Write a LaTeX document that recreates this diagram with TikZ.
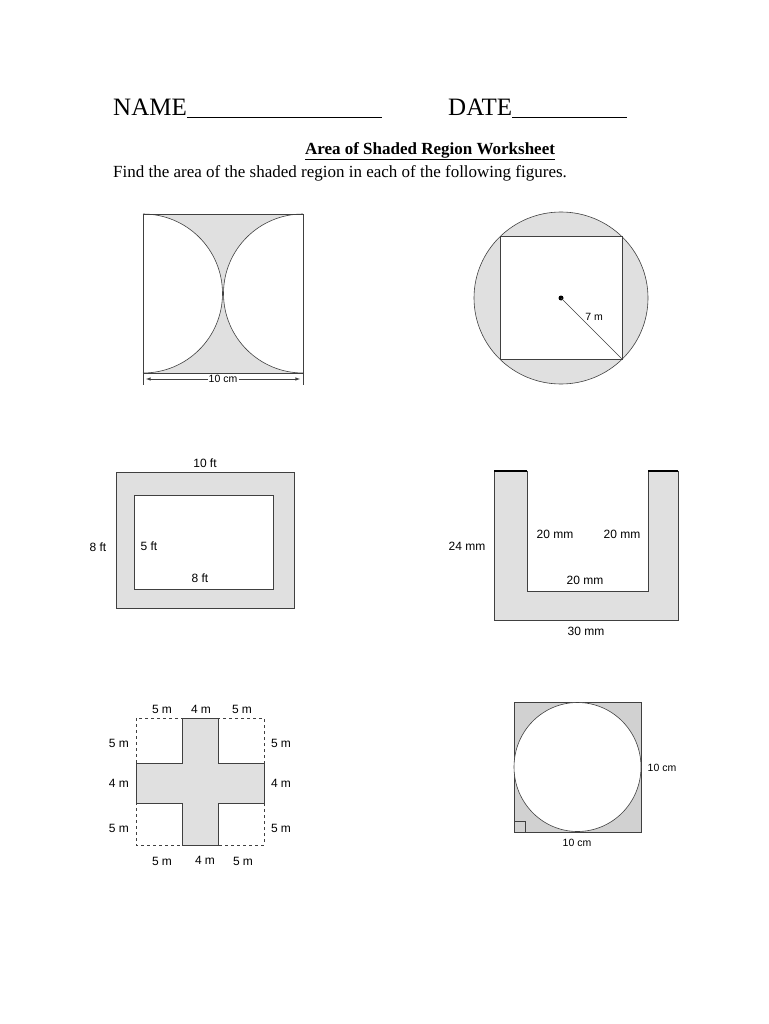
\documentclass[tikz,border=0pt]{standalone}
\usepackage{fontspec}
\setmainfont{Liberation Serif}
\newfontfamily\lab{Liberation Sans}
\begin{document}
\begin{tikzpicture}[x=1pt,y=-1pt,
  sh/.style={fill=black!12},
  ln/.style={draw=black!75,line width=0.6pt},
  lbl/.style={font=\lab\fontsize{12}{14}\selectfont,inner sep=1pt},
  slbl/.style={font=\lab\fontsize{10.5}{12}\selectfont,inner sep=1pt}]
\useasboundingbox (0,0) rectangle (768,1024);
% header
\node[anchor=base west,font=\fontsize{25}{28}\selectfont,inner sep=0] (name) at (113,116) {NAME\rule[-2pt]{195pt}{0.6pt}};
\node[anchor=base west,font=\fontsize{25}{28}\selectfont,inner sep=0] (date) at (448,116) {DATE\rule[-2pt]{115pt}{0.6pt}};
\node[font=\bfseries\fontsize{17}{20}\selectfont,inner sep=0] (title) at (430,151) {\underline{Area of Shaded Region Worksheet}};
\node[anchor=west,font=\fontsize{17}{20}\selectfont,inner sep=0] (instr) at (113,173) {Find the area of the shaded region in each of the following figures.};
% fig 1
\fill[sh] (143,214) rectangle (303,373);
\fill[white] (143,214) arc[start angle=-90,end angle=90,radius=79.5] -- cycle;
\fill[white] (303,214) arc[start angle=-90,end angle=-270,radius=79.5] -- cycle;
\draw[ln] (143,214) arc[start angle=-90,end angle=90,radius=79.5];
\draw[ln] (303,214) arc[start angle=-90,end angle=-270,radius=79.5];
\draw[ln] (143,214) rectangle (303,373);
\draw[ln] (143,373) -- (143,385) (303,373) -- (303,385);
\node[slbl,fill=white] (d1) at (223,379) {10 cm};
\draw[ln,-latex] (d1) -- (146,379);
\draw[ln,-latex] (d1) -- (300,379);
% fig 2
\draw[ln,sh] (561,298) ellipse[x radius=87,y radius=86];
\draw[ln,fill=white] (500,236) rectangle (622,359);
\fill (561,298) circle[radius=2.5];
\coordinate (c2) at (561,298);
\coordinate (k2) at (622,359);
\draw[ln] (c2) -- (k2);
\node[slbl] (r2) at (594,317) {7 m};
% fig 3
\draw[ln,sh] (116,472) rectangle (294,608);
\draw[ln,fill=white] (134,495) rectangle (273,589);
\node[lbl] (a3) at (205,463) {10 ft};
\node[lbl] (b3) at (98,547) {8 ft};
\node[lbl] (c3) at (149,546) {5 ft};
\node[lbl] (e3) at (200,578) {8 ft};
% fig 4
\draw[ln,sh] (494,471) -- (494,620) -- (678,620) -- (678,471) -- (648,471) -- (648,591) -- (527,591) -- (527,471) -- cycle;
\draw[line width=2pt] (494,471) -- (527,471) (648,471) -- (678,471);
\node[lbl] (a4) at (467,546) {24 mm};
\node[lbl] (b4) at (555,534) {20 mm};
\node[lbl] (c4) at (622,534) {20 mm};
\node[lbl] (e4) at (585,580) {20 mm};
\node[lbl] (f4) at (586,631) {30 mm};
% fig 5
\draw[ln,dashed] (136,718) rectangle (264,845);
\draw[ln,sh] (182,718) -- (218,718) -- (218,763) -- (264,763) -- (264,803) -- (218,803) -- (218,845) -- (182,845) -- (182,803) -- (136,803) -- (136,763) -- (182,763) -- cycle;
\node[lbl] at (162,709) {5 m};
\node[lbl] at (201,709) {4 m};
\node[lbl] at (242,709) {5 m};
\node[lbl] at (119,743) {5 m};
\node[lbl] at (119,783) {4 m};
\node[lbl] at (119,828) {5 m};
\node[lbl] at (281,743) {5 m};
\node[lbl] at (281,783) {4 m};
\node[lbl] at (281,828) {5 m};
\node[lbl] at (162,861) {5 m};
\node[lbl] at (205,860) {4 m};
\node[lbl] at (243,861) {5 m};
% fig 6
\draw[ln,fill=black!18] (514,702) rectangle (641,832);
\draw[ln,fill=white] (577.5,767) ellipse[x radius=63.5,y radius=64.5];
\draw[ln] (514,821) -- (525,821) -- (525,832);
\node[slbl] at (662,768) {10 cm};
\node[slbl] at (577,843) {10 cm};
\end{tikzpicture}
\end{document}
